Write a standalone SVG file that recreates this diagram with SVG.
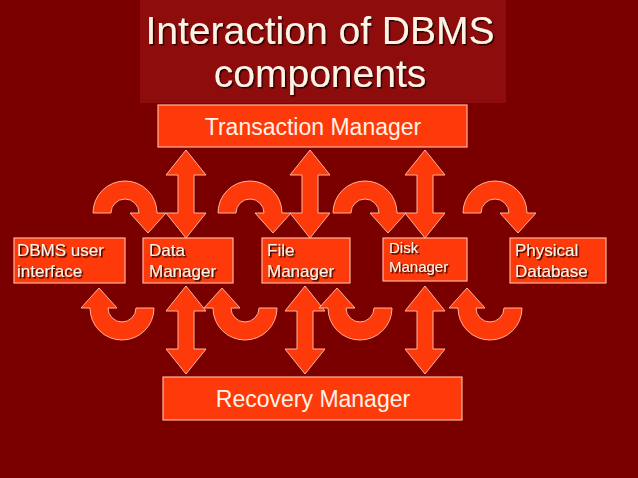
<svg xmlns="http://www.w3.org/2000/svg" width="638" height="478" viewBox="0 0 638 478">
<defs>
<style>
.box{fill:#ff3a0a;stroke:#ffb59a;stroke-width:1.2}
.arr{fill:#ff3a0a;stroke:#ffb59a;stroke-width:1}
.t{font-family:"Liberation Sans",Arial,sans-serif;fill:#fff3e6;filter:url(#ds)}
</style>
<filter id="ds" x="-10%" y="-30%" width="120%" height="160%"><feDropShadow dx="1.5" dy="1.5" stdDeviation="0.3" flood-color="#2a0000"/></filter>
<path id="vd" d="M0 0 L20 25 L8 25 L8 63 L20 63 L0 88 L-20 63 L-8 63 L-8 25 L-20 25 Z"/>
</defs>
<rect width="638" height="478" fill="#7a0000"/>
<rect x="140" y="0" width="366" height="103" fill="#8e0c0c"/>
<g id="title" font-size="39" text-anchor="middle">
<text class="t" x="320" y="44">Interaction of DBMS</text>
<text class="t" x="320" y="87">components</text>
</g>
<g id="connectors">
<g class="arr">
<use href="#vd" x="186" y="150"/><use href="#vd" x="310" y="150"/><use href="#vd" x="425" y="150"/>
<use href="#vd" x="186" y="286"/><use href="#vd" x="305" y="286"/><use href="#vd" x="425" y="286"/>
<path d="M93 213 A32 32 0 0 1 157 213 L166 213 L148 233 L130 213 L139 213 A14 14 0 0 0 111 213 Z"/>
<path d="M218 213 A32 32 0 0 1 282 213 L291 213 L273 233 L255 213 L264 213 A14 14 0 0 0 236 213 Z"/>
<path d="M333 213 A32 32 0 0 1 397 213 L406 213 L388 233 L370 213 L379 213 A14 14 0 0 0 351 213 Z"/>
<path d="M463 213 A32 32 0 0 1 527 213 L536 213 L518 233 L500 213 L509 213 A14 14 0 0 0 481 213 Z"/>
<path d="M154 308 A32 32 0 0 1 90 308 L81 308 L99 288 L117 308 L108 308 A14 14 0 0 0 136 308 Z"/>
<path d="M277 308 A32 32 0 0 1 213 308 L204 308 L222 288 L240 308 L231 308 A14 14 0 0 0 259 308 Z"/>
<path d="M392 308 A32 32 0 0 1 328 308 L319 308 L337 288 L355 308 L346 308 A14 14 0 0 0 374 308 Z"/>
<path d="M522 308 A32 32 0 0 1 458 308 L449 308 L467 288 L485 308 L476 308 A14 14 0 0 0 504 308 Z"/>
</g>
</g>
<g id="tm"><rect class="box" x="158" y="105" width="309" height="42"/>
<text class="t" x="313" y="135" font-size="23" text-anchor="middle" fill-opacity="1" style="filter:none">Transaction Manager</text></g>
<g id="rm"><rect class="box" x="163" y="377" width="299" height="43"/>
<text class="t" x="313" y="407" font-size="23" text-anchor="middle" style="filter:none">Recovery Manager</text></g>
<g id="ui"><rect class="box" x="14" y="238" width="111" height="45"/>
<g font-size="17"><text class="t" x="17" y="256">DBMS user</text><text class="t" x="17" y="277">interface</text></g></g>
<g id="dm"><rect class="box" x="143" y="238" width="90" height="45"/>
<g font-size="17"><text class="t" x="149" y="256">Data</text><text class="t" x="149" y="277">Manager</text></g></g>
<g id="fm"><rect class="box" x="262" y="238" width="88" height="45"/>
<g font-size="17"><text class="t" x="267" y="256">File</text><text class="t" x="267" y="277">Manager</text></g></g>
<g id="km"><rect class="box" x="383" y="238" width="84" height="43"/>
<g font-size="15"><text class="t" x="389" y="253">Disk</text><text class="t" x="389" y="272">Manager</text></g></g>
<g id="pd"><rect class="box" x="510" y="238" width="96" height="45"/>
<g font-size="17"><text class="t" x="515" y="256">Physical</text><text class="t" x="515" y="277">Database</text></g></g>
</svg>
